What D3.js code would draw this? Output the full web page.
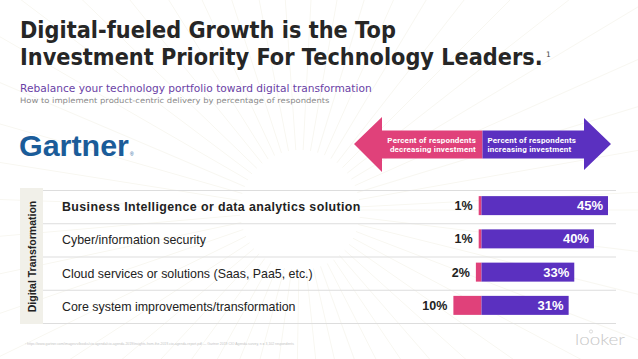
<!DOCTYPE html>
<html>
<head>
<meta charset="utf-8">
<script src="https://cdn.jsdelivr.net/npm/d3@7"></script>
<style>
html,body{margin:0;padding:0;background:#fff;}
svg{display:block;}
</style>
</head>
<body>
<svg id="chart" width="638" height="359"></svg>
<script>
// ---- data ----
const categories = [
  "Business Intelligence or data analytics solution",
  "Cyber/information security",
  "Cloud services or solutions (Saas, Paa5, etc.)",
  "Core system improvements/transformation"
];
const decreasing = [1, 1, 2, 10];
const increasing = [45, 40, 33, 31];
const groupLabel = "Digital Transformation";
const titleLines = ["Digital-fueled Growth is the Top", "Investment Priority For Technology Leaders."];
const subtitle = "Rebalance your technology portfolio toward digital transformation";
const subsubtitle = "How to implement product-centric delivery by percentage of respondents";
const legendDec = ["Percent of respondents", "decreasing investment"];
const legendInc = ["Percent of respondents", "increasing investment"];

// ---- layout ----
const W = 638, H = 359;
const PINK = "#e0417a", PURPLE = "#5b30c0";
const svg = d3.select("#chart");

// text squeezed horizontally to a target width (via transform so bboxes stay true)
function fitText(parent, x, y, target, styles, str) {
  const g = parent.append("g").attr("transform", `translate(${x},${y})`);
  const t = g.append("text").attr("x", 0).attr("y", 0).text(str);
  Object.entries(styles).forEach(([k, v]) => t.attr(k, v));
  const w = t.node().getComputedTextLength();
  g.attr("transform", `translate(${x},${y}) scale(${target / w},1)`);
  return t;
}

// faint background rays
const rays = svg.append("g").attr("stroke", "#f8f7f1").attr("stroke-width", 1);
d3.range(0, 360, 7).forEach(a => {
  const r = a * Math.PI / 180;
  rays.append("line").attr("x1", 300 + 60 * Math.cos(r)).attr("y1", 210 + 60 * Math.sin(r))
    .attr("x2", 300 + 700 * Math.cos(r)).attr("y2", 210 + 700 * Math.sin(r));
});

// title
const serif = "'DejaVu Sans', Verdana, sans-serif";
const titleStyle = {"font-family": serif, "font-weight": "bold", "font-size": 22.5, "fill": "#262626"};
fitText(svg, 20, 38, 376, titleStyle, titleLines[0]);
fitText(svg, 20, 65, 523, titleStyle, titleLines[1]);
svg.append("text").attr("x", 20 + 523 + 3).attr("y", 57)
  .attr("font-family", serif).attr("font-size", 7.5).attr("fill", "#444").text("1");

fitText(svg, 20, 92, 352, {"font-family": serif, "font-size": 10.2, "fill": "#6a3fa6"}, subtitle);
fitText(svg, 20, 103, 310, {"font-family": serif, "font-size": 7.5, "fill": "#8a8a8a"}, subsubtitle);

// Gartner logo
fitText(svg, 19, 156, 110, {"font-family": "'Liberation Sans', Arial, sans-serif", "font-weight": "bold",
  "font-size": 30, "fill": "#1b5c99"}, "Gartner");
svg.append("text").attr("x", 130).attr("y", 156)
  .attr("font-family", "'Liberation Sans', Arial, sans-serif")
  .attr("font-size", 5).attr("fill", "#1b5c99").text("®");

// legend arrows
const mid = 482.5;
svg.append("path").attr("fill", PINK)
  .attr("d", `M354,144 L382,117 L382,130.5 L${mid},130.5 L${mid},158.5 L382,158.5 L382,172 Z`);
svg.append("path").attr("fill", PURPLE)
  .attr("d", `M${mid},130.5 L584,130.5 L584,118 L611,144 L584,170 L584,158.5 L${mid},158.5 Z`);
const lf = "Roboto, 'Liberation Sans', Arial, sans-serif";
legendDec.forEach((s, i) => svg.append("text").attr("x", 476).attr("y", 142.5 + i * 9.5)
  .attr("text-anchor", "end").attr("font-family", lf).attr("font-weight", "bold")
  .attr("font-size", 8).attr("letter-spacing", 0.2).attr("fill", "#fff").text(s));
legendInc.forEach((s, i) => svg.append("text").attr("x", 487.5).attr("y", 142.5 + i * 9.5)
  .attr("font-family", lf).attr("font-weight", "bold")
  .attr("font-size", 8).attr("letter-spacing", 0.2).attr("fill", "#fff").text(s));

// scales
const y = d3.scaleBand().domain(categories).range([190, 323]).padding(0);
const bw = y.bandwidth();
const bh = 19;
const x0 = 481.5;
const xInc = d3.scaleLinear().domain([0, 45]).range([x0, 608]);
const xDec = d3.scaleLinear().domain([0, 45]).range([x0, x0 - 126.5]);

// group band
svg.append("rect").attr("x", 20).attr("y", 188).attr("width", 23).attr("height", 136)
  .attr("fill", "#f1f0e9");
svg.append("text").attr("transform", `translate(35.5,${(190 + 323) / 2}) rotate(-90)`)
  .attr("text-anchor", "middle").attr("font-family", "'Liberation Sans', Arial, sans-serif")
  .attr("font-weight", "bold").attr("font-size", 10.5).attr("fill", "#222").text(groupLabel);

// separators
const seps = [190].concat(categories.map(c => y(c) + bw));
svg.append("g").selectAll("line").data(seps).join("line")
  .attr("x1", 43).attr("x2", 616).attr("y1", d => d + 0.5).attr("y2", d => d + 0.5)
  .attr("stroke", "#dddddd").attr("stroke-width", 1);

const rows = svg.append("g").selectAll("g").data(categories).join("g");
const ff = "'Liberation Sans', Arial, sans-serif";
rows.append("text").attr("x", 62).attr("y", c => y(c) + bw / 2 + 4.5)
  .attr("font-family", ff).attr("font-size", 12.4)
  .attr("font-weight", (c, i) => i === 0 ? "bold" : "normal")
  .attr("letter-spacing", (c, i) => i === 0 ? 0.4 : 0)
  .attr("fill", "#222").text(c => c);

const barY = c => y(c) + (bw - bh) / 2 - 1;
rows.append("rect").attr("x", (c, i) => xDec(decreasing[i])).attr("y", barY)
  .attr("width", (c, i) => x0 - xDec(decreasing[i])).attr("height", bh).attr("fill", PINK);
rows.append("rect").attr("x", x0).attr("y", barY)
  .attr("width", (c, i) => xInc(increasing[i]) - x0).attr("height", bh).attr("fill", PURPLE);

rows.append("text").attr("x", (c, i) => xDec(decreasing[i]) - 6).attr("y", c => barY(c) + bh / 2 + 4.5)
  .attr("text-anchor", "end").attr("font-family", ff).attr("font-weight", "bold")
  .attr("font-size", 12.5).attr("fill", "#222").text((c, i) => decreasing[i] + "%");
rows.append("text").attr("x", (c, i) => xInc(increasing[i]) - 5).attr("y", c => barY(c) + bh / 2 + 4.5)
  .attr("text-anchor", "end").attr("font-family", ff).attr("font-weight", "bold")
  .attr("font-size", 13).attr("fill", "#fff").text((c, i) => increasing[i] + "%");

// footnote
fitText(svg, 25, 345, 270, {"font-family": ff, "font-size": 3.5, "fill": "#c4c4c4"},
  "¹ https://www.gartner.com/imagesrv/books/cio-agenda/cio-agenda-2019/insights-from-the-2019-cio-agenda-report.pdf — Gartner 2019 CIO Agenda survey, n = 3,102 respondents");

// looker mark
fitText(svg, 575, 345, 50, {"font-family": "Lato, 'Open Sans', sans-serif", "font-weight": 300,
  "font-size": 15.5, "fill": "#c6c6c6"}, "looker");
svg.append("circle").attr("cx", 591).attr("cy", 331.5).attr("r", 1.6)
  .attr("fill", "none").attr("stroke", "#c6c6c6").attr("stroke-width", 0.6);
</script>
</body>
</html>
